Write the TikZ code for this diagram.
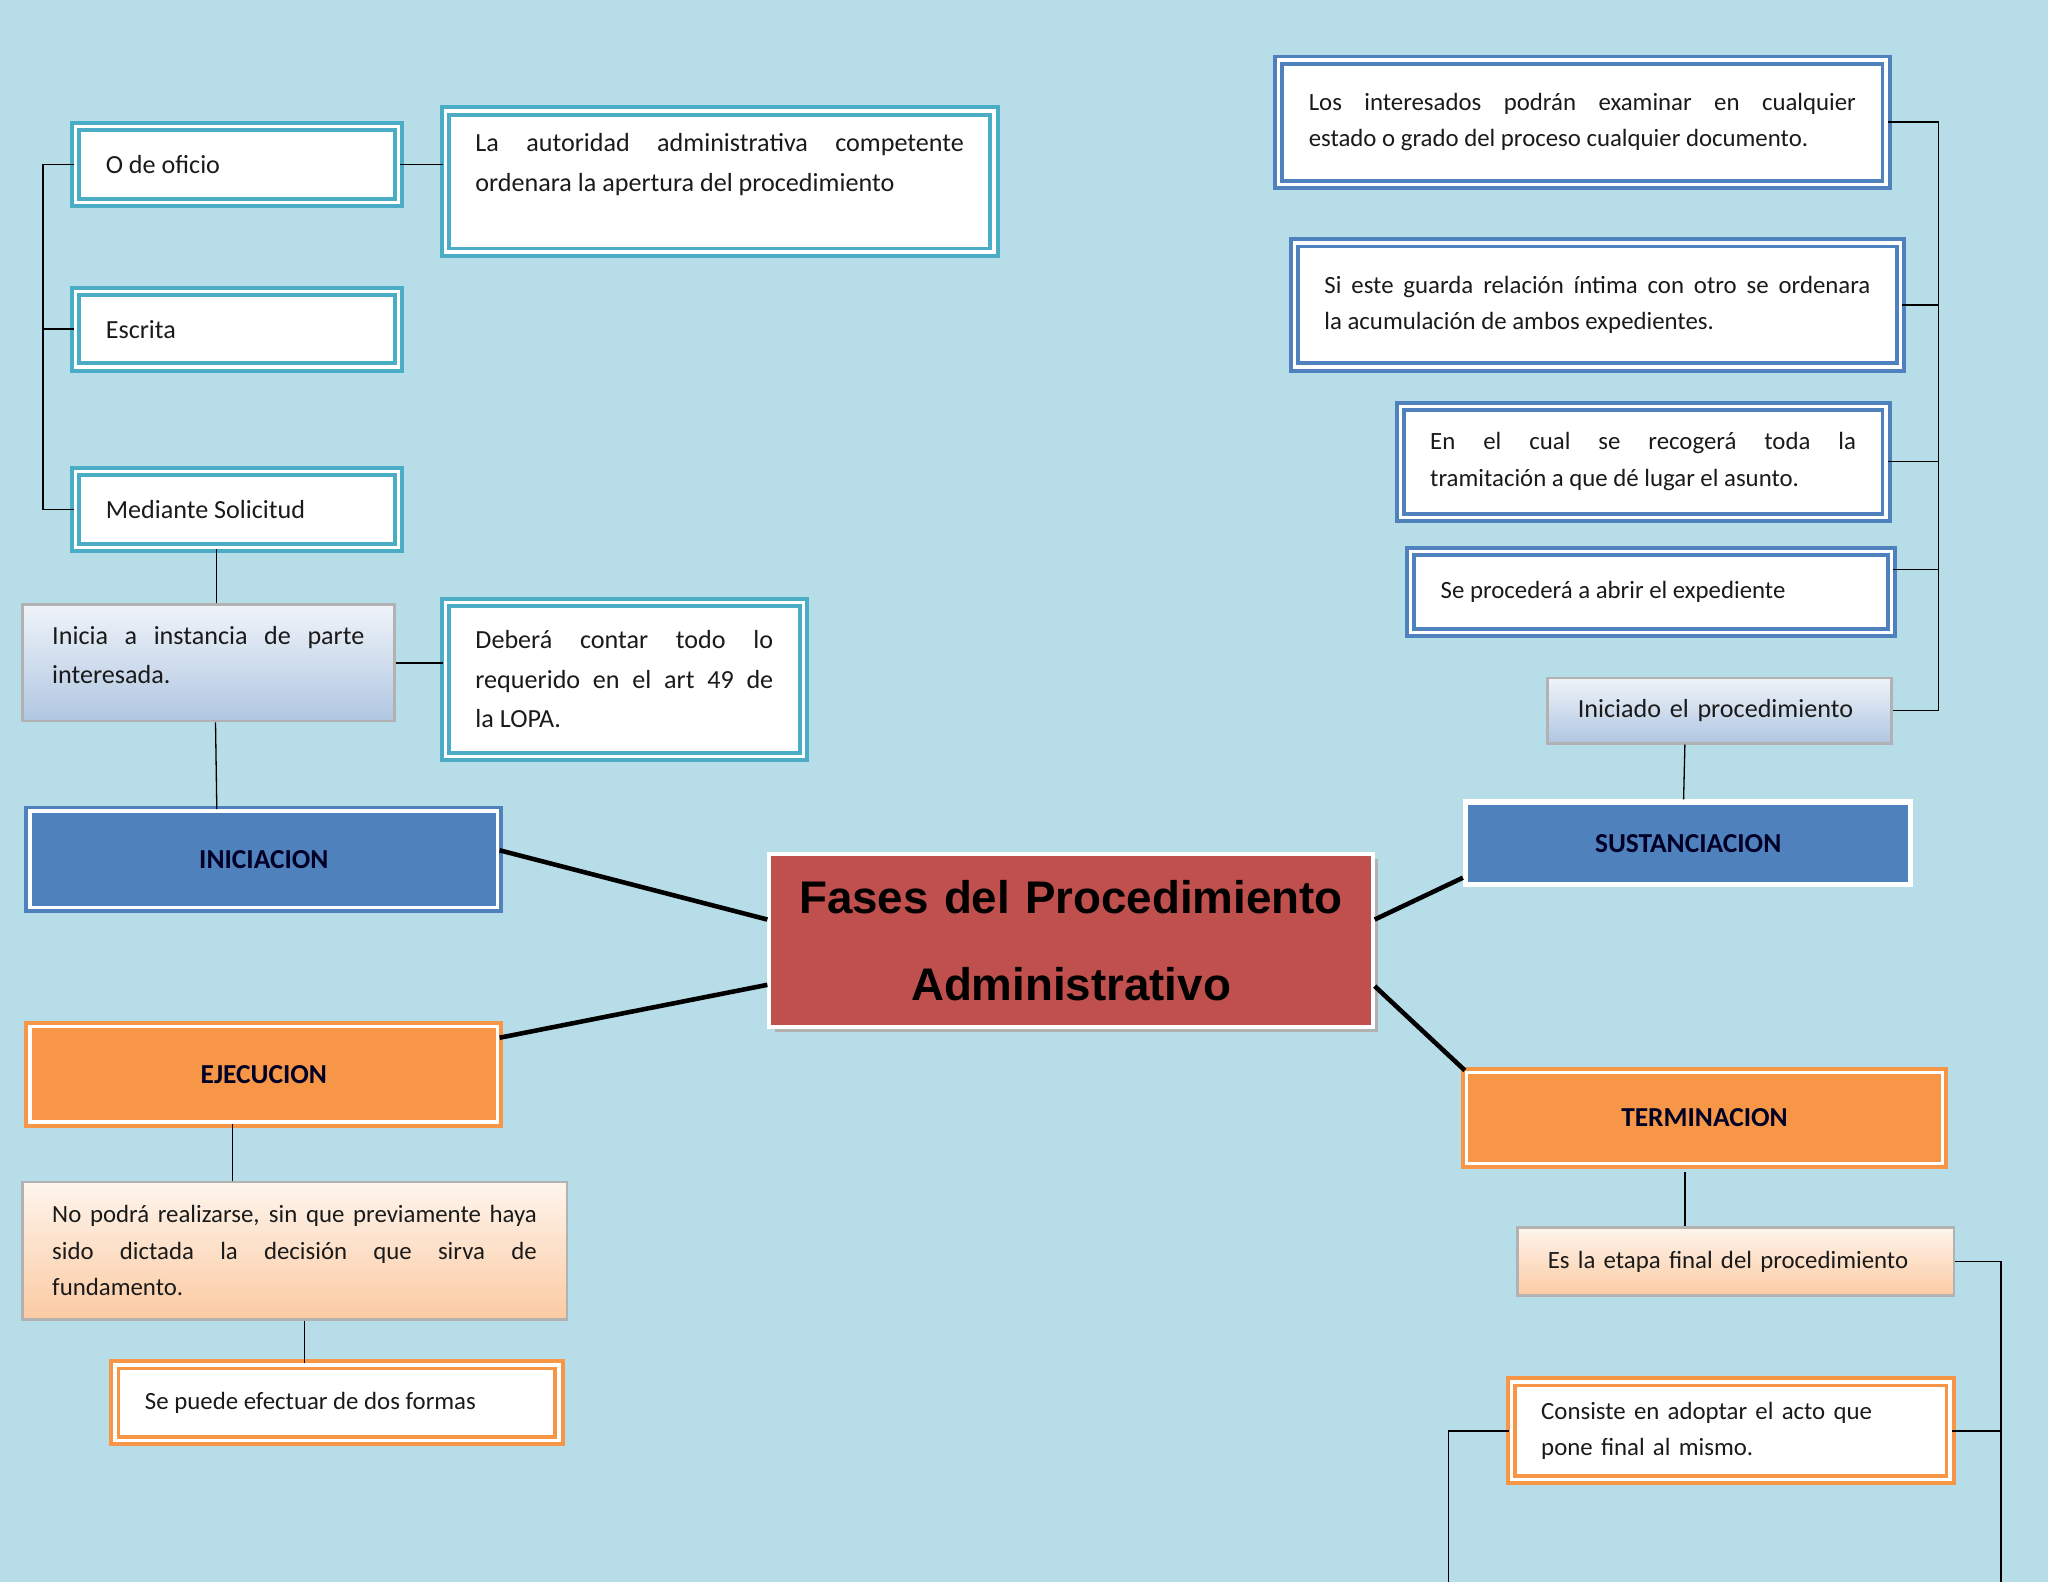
\documentclass[tikz,border=0pt]{standalone}
\usepackage{fontspec}
\setmainfont{Carlito}
\newfontfamily\titlefont{Liberation Sans}
\definecolor{bg}{HTML}{B7DDE8}
\definecolor{teal}{HTML}{4BACC6}
\definecolor{blu}{HTML}{4F81BD}
\definecolor{ora}{HTML}{F79646}
\definecolor{red}{HTML}{C0504D}
\definecolor{txt}{HTML}{1A1A1A}
\newcommand\bx[7]{\node[#6, minimum width={#4-#2}, minimum height={#5-#3}, text width={#4-#2-46}] (#1) at ({(#2+#4)/2},{(#3+#5)/2}) {#7};}
\begin{document}
\hyphenpenalty=10000 \exhyphenpenalty=10000
\begin{tikzpicture}[x=1pt,y=-1pt,
 every node/.style={font=\fontsize{20}{30}\selectfont, text=txt, inner sep=0pt, align=justify},
 sm/.style={font=\fontsize{19}{28}\selectfont},
 dbl/.style={draw=#1, line width=3pt, double=white, double distance=2.5pt, fill=white},
 dblf/.style={draw=#1, line width=3pt, double=white, double distance=2.5pt, fill=#1, align=center, font=\fontsize{21}{26}\selectfont\bfseries, text=black!85!blue},
 grad/.style={draw=gray!60, line width=2pt, top color=white!80!#1, bottom color=#1},
 thin/.style={line width=1pt, black},
 thick/.style={line width=3.5pt, black}]
\fill[bg] (0,0) rectangle (1568,1211);
\useasboundingbox (0,0) rectangle (1568,1211);
% left
\bx{ofi}{58}{97}{305}{155}{dbl=teal}{O de oficio}
\bx{esc}{58}{223}{305}{281}{dbl=teal}{Escrita}
\bx{sol}{58}{361}{305}{419}{dbl=teal}{Mediante Solicitud}
\bx{aut}{341}{85}{761}{193}{dbl=teal}{La autoridad administrativa competente\linebreak ordenara la apertura del procedimiento\par\vspace{26pt}}
\bx{ini}{17}{463}{302}{552}{grad=blu!45}{Inicia a instancia de parte\linebreak interesada.\par\vspace{12pt}}
\bx{deb}{341}{461}{615}{579}{dbl=teal}{Deberá contar todo lo\linebreak requerido en el art 49 de\linebreak la LOPA.}
\bx{INI}{23}{621}{381}{695}{dblf=blu}{INICIACION}
\fill[gray!60] (593,658) rectangle (1055,790);
\node[draw=white, line width=3pt, fill=red, minimum width=462, minimum height=132, text width=450, align=center, font=\titlefont\fontsize{35}{67}\selectfont\bfseries, text=black] (tit) at (820,720) {Fases del Procedimiento\\Administrativo};
\bx{EJE}{23}{786}{381}{859}{dblf=ora}{EJECUCION}
\bx{nop}{17}{905}{434}{1010}{grad=ora!50, sm}{No podrá realizarse, sin que previamente haya\linebreak sido dictada la decisión que sirva de\linebreak fundamento.}
\bx{sep}{88}{1045}{428}{1103}{dbl=ora, sm}{Se puede efectuar de dos formas}
% right
\bx{SUS}{1122}{614}{1463}{677}{draw=white, line width=4pt, fill=blu, align=center, font=\fontsize{21}{26}\selectfont\bfseries, text=black!85!blue}{SUSTANCIACION}
\bx{inc}{1185}{519}{1448}{569}{grad=blu!45, align=left}{Iniciado el procedimiento}
\bx{pro}{1080}{422}{1448}{484}{dbl=blu, sm}{Se procederá a abrir el expediente}
\bx{cua}{1072}{311}{1444}{396}{dbl=blu, sm}{En el cual se recogerá toda la\linebreak tramitación a que dé lugar el asunto.}
\bx{si}{991}{186}{1455}{281}{dbl=blu, sm}{Si este guarda relación íntima con otro se ordenara\linebreak la acumulación de ambos expedientes.}
\bx{los}{979}{46}{1444}{141}{dbl=blu, sm}{Los interesados podrán examinar en cualquier\linebreak estado o grado del proceso cualquier documento.}
\bx{TER}{1123}{821}{1487}{891}{dblf=ora}{TERMINACION}
\bx{eta}{1162}{940}{1496}{992}{grad=ora!50, align=left, sm}{Es la etapa final del procedimiento}
\bx{con}{1157}{1058}{1493}{1133}{dbl=ora, align=left, sm}{Consiste en adoptar el acto que\\pone final al mismo.}
% thick connectors
\draw[thick] (INI.east) ++(0,-7) coordinate (a1) (a1) -- (tit.west |- 0,704);
\draw[thick] (EJE.north east) ++(0,10) coordinate (a2) (a2) -- (tit.west |- 0,754);
\draw[thick] (tit.east |- 0,704) -- (SUS.west |- 0,672);
\draw[thick] (tit.east |- 0,755) -- (TER.north west);
% thin connectors
\coordinate (lb) at (33,0);
\draw[thin] (ofi.west) -| (lb |- sol.west) -- (sol.west);
\draw[thin] (lb |- esc.west) -- (esc.west);
\draw[thin] (ofi.east) -- (aut.west |- ofi.east);
\draw[thin] (sol.south -| 166,0) -- (ini.north -| 166,0);
\draw[thin] (ini.south -| 165,0) -- (INI.north -| 166,0);
\draw[thin] (ini.east) -- (deb.west |- ini.east);
\draw[thin] (EJE.south -| 178,0) -- (nop.north -| 178,0);
\draw[thin] (nop.south -| 233,0) -- (sep.north -| 233,0);
\coordinate (rb) at (1484,0);
\draw[thin] (los.east) -| (rb |- inc.east) -- (inc.east);
\draw[thin] (si.east) -- (rb |- si.east);
\draw[thin] (cua.east) -- (rb |- cua.east);
\draw[thin] (pro.east |- 0,436) -- (rb |- 0,436);
\draw[thin] (inc.south -| 1290,0) -- (SUS.north -| 1289,0);
\draw[thin] (TER.south -| 1290,0) ++(0,5) coordinate (t1) (t1) -- (eta.north -| 1290,0);
\coordinate (bot) at (1532,1211);
\draw[thin] (eta.east) -| (bot);
\draw[thin] (con.east) -- (bot |- con.east);
\coordinate (bot2) at (1109,1211);
\draw[thin] (con.west) -| (bot2);
\end{tikzpicture}
\end{document}
